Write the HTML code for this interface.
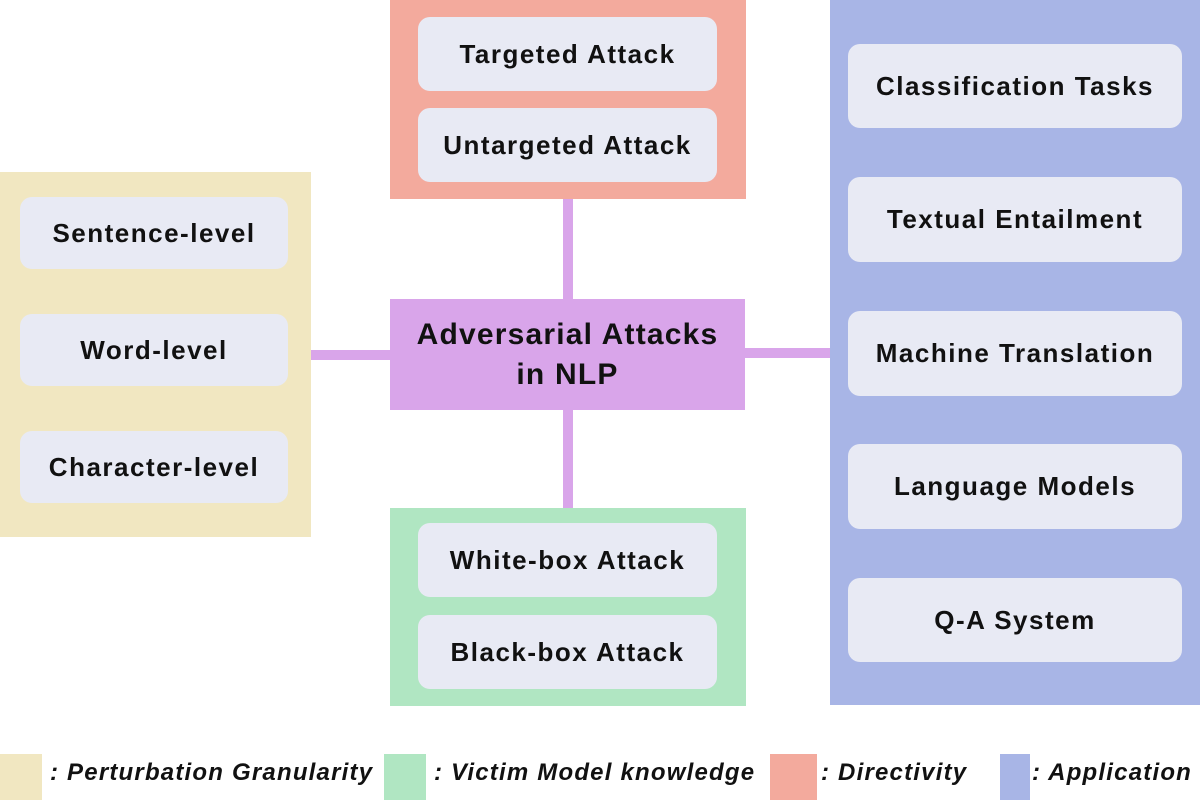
<!DOCTYPE html>
<html><head><meta charset="utf-8"><style>
body{margin:0;width:1200px;height:801px;background:#fff;position:relative;overflow:hidden;font-family:"Liberation Sans",sans-serif;}
div{position:absolute;box-sizing:border-box}
.in{background:#e8eaf4;border-radius:12px;display:flex;align-items:center;justify-content:center;font-weight:bold;font-size:26px;color:#111;letter-spacing:1.5px;white-space:nowrap}
.leg{font-style:italic;font-weight:bold;font-size:24px;color:#111;top:759px;white-space:nowrap;letter-spacing:1.2px}
</style></head><body>
<div style="left:563px;top:199px;width:10px;height:100px;background:#d9a5ea"></div>
<div style="left:563px;top:410px;width:10px;height:98px;background:#d9a5ea"></div>
<div style="left:311px;top:350px;width:79px;height:10px;background:#d9a5ea"></div>
<div style="left:745px;top:348px;width:85px;height:10px;background:#d9a5ea"></div>
<div style="left:390px;top:0;width:356px;height:199px;background:#f3aa9d"></div>
<div class="in" style="left:418px;top:17px;width:299px;height:74px">Targeted Attack</div>
<div class="in" style="left:418px;top:108px;width:299px;height:74px">Untargeted Attack</div>
<div style="left:0;top:172px;width:311px;height:365px;background:#f1e7c1"></div>
<div class="in" style="left:20px;top:197px;width:268px;height:72px">Sentence-level</div>
<div class="in" style="left:20px;top:314px;width:268px;height:72px">Word-level</div>
<div class="in" style="left:20px;top:431px;width:268px;height:72px">Character-level</div>
<div style="left:390px;top:299px;width:355px;height:111px;background:#d9a5ea;display:flex;align-items:center;justify-content:center;text-align:center;font-weight:bold;font-size:30px;letter-spacing:1.2px;line-height:40px;color:#111">Adversarial Attacks<br>in NLP</div>
<div style="left:390px;top:508px;width:356px;height:198px;background:#b0e6c2"></div>
<div class="in" style="left:418px;top:523px;width:299px;height:74px">White-box Attack</div>
<div class="in" style="left:418px;top:615px;width:299px;height:74px">Black-box Attack</div>
<div style="left:830px;top:0;width:370px;height:705px;background:#a8b5e6"></div>
<div class="in" style="left:848px;top:44px;width:334px;height:84px">Classification Tasks</div>
<div class="in" style="left:848px;top:177px;width:334px;height:85px">Textual Entailment</div>
<div class="in" style="left:848px;top:311px;width:334px;height:85px">Machine Translation</div>
<div class="in" style="left:848px;top:444px;width:334px;height:85px">Language Models</div>
<div class="in" style="left:848px;top:578px;width:334px;height:84px">Q-A System</div>
<div style="left:0;top:754px;width:42px;height:46px;background:#f1e7c1"></div>
<div class="leg" style="left:50px">: Perturbation Granularity</div>
<div style="left:384px;top:754px;width:42px;height:46px;background:#b0e6c2"></div>
<div class="leg" style="left:434px">: Victim Model knowledge</div>
<div style="left:770px;top:754px;width:47px;height:46px;background:#f3aa9d"></div>
<div class="leg" style="left:821px">: Directivity</div>
<div style="left:1000px;top:754px;width:30px;height:46px;background:#a8b5e6"></div>
<div class="leg" style="left:1032px">: Application</div>
</body></html>
